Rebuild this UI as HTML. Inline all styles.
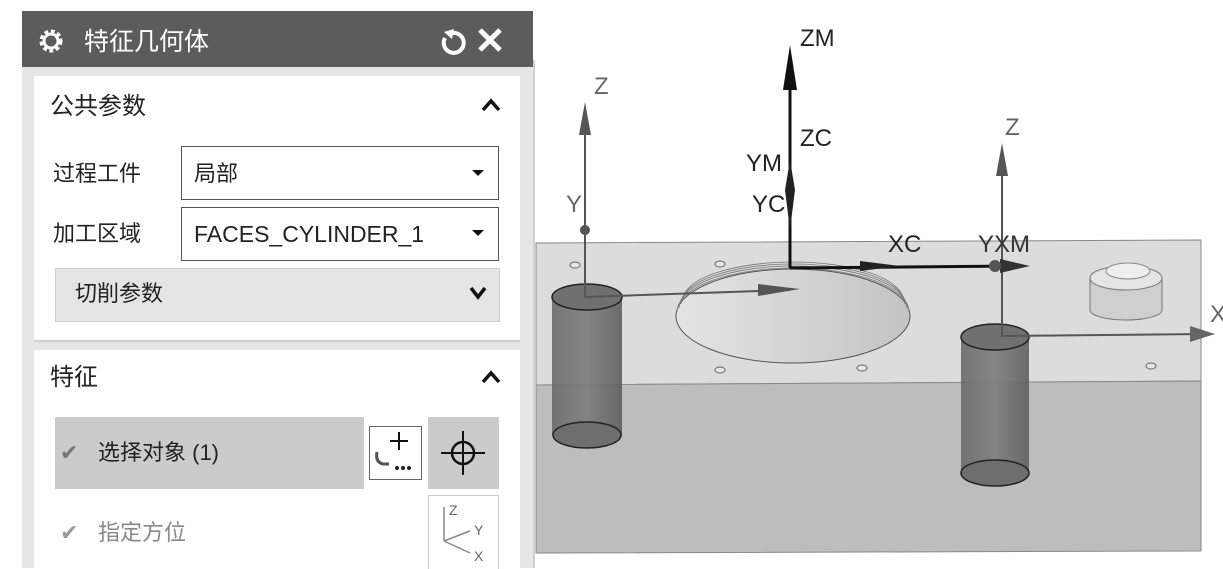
<!DOCTYPE html>
<html><head><meta charset="utf-8"><style>
html,body{margin:0;padding:0;background:#fff;width:1223px;height:568px;overflow:hidden;font-family:"Liberation Sans","Noto Sans CJK SC",sans-serif}
.a{position:absolute}
.t{position:absolute;height:30px;line-height:30px;white-space:nowrap;font-family:"Liberation Sans","Noto Sans CJK SC",sans-serif;color:#222;font-size:22px}
</style></head><body>
<div class="a" style="left:22px;top:11px;width:511px;height:557px;background:#e6e6e6"></div>
<div class="a" style="left:533px;top:60px;width:2px;height:508px;background:#d0d0d0"></div>
<div class="a" style="left:22px;top:11px;width:511px;height:56px;background:#5c5c5c"></div>
<svg class="a" style="left:36px;top:26px" width="30" height="30"><circle cx="15" cy="15" r="9" fill="none" stroke="#fff" stroke-width="5" stroke-dasharray="3.5 2.5"/><circle cx="15" cy="15" r="7" fill="none" stroke="#fff" stroke-width="3"/></svg>
<div class="t" style="left:84px;top:27px;color:#fff;font-size:25px">特征几何体</div>
<svg class="a" style="left:440px;top:22px" width="80" height="40"><path d="M12,11 A10,10 0 1 1 5,16" fill="none" stroke="#fff" stroke-width="4"/><polygon points="4,10 14,7 12,17" fill="#fff"/><path d="M40,8 L60,28 M60,8 L40,28" stroke="#fff" stroke-width="5"/></svg>
<div class="a" style="left:34px;top:76px;width:486px;height:264px;background:#fff;border-bottom:2px solid #cfcfcf"></div>
<div class="t" style="left:50px;top:92px;font-size:24px">公共参数</div>
<svg class="a" style="left:480px;top:96px" width="22" height="18"><path d="M3,14 L11,5 L19,14" fill="none" stroke="#111" stroke-width="3.5"/></svg>
<div class="t" style="left:53px;top:159px">过程工件</div>
<div class="a" style="left:181px;top:146px;width:316px;height:52px;border:1.5px solid #555;background:#fff"></div>
<div class="t" style="left:194px;top:159px">局部</div>
<svg class="a" style="left:470px;top:168px" width="16" height="10"><polygon points="2,2 14,2 8,8" fill="#111"/></svg>
<div class="t" style="left:53px;top:219px">加工区域</div>
<div class="a" style="left:181px;top:207px;width:316px;height:52px;border:1.5px solid #555;background:#fff"></div>
<div class="t" style="left:194px;top:219px;font-size:23px">FACES_CYLINDER_1</div>
<svg class="a" style="left:470px;top:228px" width="16" height="10"><polygon points="2,2 14,2 8,8" fill="#111"/></svg>
<div class="a" style="left:55px;top:268px;width:443px;height:52px;border:1.5px solid #cfcfcf;background:#e4e4e4"></div>
<div class="t" style="left:75px;top:279px">切削参数</div>
<svg class="a" style="left:467px;top:284px" width="22" height="18"><path d="M4,4 L11,13 L18,4" fill="none" stroke="#111" stroke-width="3.5"/></svg>
<div class="a" style="left:34px;top:350px;width:486px;height:218px;background:#fff"></div>
<div class="t" style="left:50px;top:363px;font-size:24px">特征</div>
<svg class="a" style="left:480px;top:368px" width="22" height="18"><path d="M3,14 L11,5 L19,14" fill="none" stroke="#111" stroke-width="3.5"/></svg>
<div class="a" style="left:55px;top:417px;width:309px;height:72px;background:#cbcbcb"></div>
<div class="t" style="left:60px;top:438px;font-size:22px;color:#777">✔</div>
<div class="t" style="left:98px;top:438px">选择对象 (1)</div>
<div class="a" style="left:369px;top:426px;width:51px;height:52px;border:1.5px solid #666;background:#fff"></div>
<svg class="a" style="left:369px;top:426px" width="53" height="54"><path d="M30,6 V24 M21,15 H39" stroke="#111" stroke-width="2"/><path d="M8,26 Q6,36 14,38 L20,38" fill="none" stroke="#555" stroke-width="3"/><circle cx="28" cy="42" r="2" fill="#222"/><circle cx="34" cy="42" r="2" fill="#222"/><circle cx="40" cy="42" r="2" fill="#222"/></svg>
<div class="a" style="left:428px;top:417px;width:71px;height:72px;background:#cbcbcb"></div>
<svg class="a" style="left:428px;top:417px" width="71" height="72"><circle cx="35" cy="36" r="11" fill="none" stroke="#111" stroke-width="2.5"/><line x1="13" y1="36" x2="57" y2="36" stroke="#111" stroke-width="2"/><line x1="35" y1="14" x2="35" y2="58" stroke="#111" stroke-width="2"/></svg>
<div class="t" style="left:60px;top:518px;font-size:22px;color:#999">✔</div>
<div class="t" style="left:98px;top:518px;color:#888">指定方位</div>
<div class="a" style="left:428px;top:495px;width:69px;height:73px;border:1.5px solid #ccc;border-bottom:none;background:#fff"></div>
<svg class="a" style="left:428px;top:495px" width="71" height="73"><g stroke="#888" stroke-width="1.5" fill="none"><line x1="16" y1="46" x2="16" y2="12"/><line x1="16" y1="46" x2="42" y2="36"/><line x1="16" y1="46" x2="42" y2="58"/></g><g font-family="Liberation Sans" font-size="14" fill="#666"><text x="21" y="20">Z</text><text x="46" y="40">Y</text><text x="46" y="66">X</text></g></svg>

<svg class="a" style="left:0;top:0" width="1223" height="568">
<defs><linearGradient id="cy" x1="0" x2="1"><stop offset="0" stop-color="#6a6a6a"/><stop offset="0.5" stop-color="#7c7c7c"/><stop offset="1" stop-color="#5e5e5e"/></linearGradient>
<linearGradient id="hl" x1="0" x2="1"><stop offset="0" stop-color="#e4e4e4"/><stop offset="1" stop-color="#c4c4c4"/></linearGradient></defs>
<polygon points="536,243 1201,240 1201,381 536,385" fill="#dcdcdc" stroke="#888" stroke-width="1"/>
<polygon points="536,385 1201,381 1201,551 536,553" fill="#bdbdbd" stroke="#888" stroke-width="1"/>
<ellipse cx="793" cy="316" rx="117" ry="47" fill="url(#hl)" stroke="#555"/>
<g fill="none" stroke="#777" stroke-width="0.8"><path d="M677,312 A116,44 0 0 1 909,312"/><path d="M679,308 A114,42 0 0 1 907,308"/><path d="M681,304 A112,40 0 0 1 905,304"/><path d="M683,300 A110,38 0 0 1 903,300"/></g>
<g fill="#e6e6e6" stroke="#666" stroke-width="1"><ellipse cx="575" cy="265" rx="5" ry="3"/><ellipse cx="720" cy="264" rx="5" ry="3"/><ellipse cx="720" cy="370" rx="5" ry="3"/><ellipse cx="862" cy="368" rx="5" ry="3"/><ellipse cx="1151" cy="366" rx="5" ry="3"/></g>
<path d="M1090,278 L1090,310 A36,10 0 0 0 1162,310 L1162,278 Z" fill="#cfcfcf" stroke="#777"/>
<ellipse cx="1126" cy="278" rx="36" ry="12" fill="#e4e4e4" stroke="#777"/>
<ellipse cx="1128" cy="271" rx="22" ry="8" fill="#eee" stroke="#888"/>
<rect x="552" y="297" width="70" height="138" fill="url(#cy)" opacity="0.9"/>
<ellipse cx="587" cy="297" rx="35" ry="13" fill="#707070" stroke="#222" stroke-width="1.5"/>
<ellipse cx="587" cy="435" rx="34" ry="13" fill="#6e6e6e" stroke="#222" stroke-width="1.5"/>
<rect x="961" y="337" width="68" height="136" fill="url(#cy)" opacity="0.9"/>
<ellipse cx="995" cy="337" rx="34" ry="13" fill="#707070" stroke="#222" stroke-width="1.5"/>
<ellipse cx="995" cy="473" rx="34" ry="13" fill="#6e6e6e" stroke="#222" stroke-width="1.5"/>
<g stroke="#555" stroke-width="2">
<line x1="585" y1="297" x2="585" y2="120"/><line x1="585" y1="297" x2="790" y2="290"/>
<line x1="1002" y1="337" x2="1002" y2="160"/><line x1="1002" y1="336" x2="1205" y2="334"/>
</g>
<polygon points="585,102 579,135 591,135" fill="#555"/>
<polygon points="1002,143 996,176 1008,176" fill="#555"/>
<polygon points="1215,334 1190,326 1190,342" fill="#666"/>
<polygon points="800,289 758,284 758,296" fill="#555"/>
<circle cx="585" cy="230" r="5" fill="#555"/>
<g stroke="#111" stroke-width="3"><line x1="790" y1="268" x2="790" y2="70"/><line x1="790" y1="268" x2="1020" y2="266"/></g>
<polygon points="790,45 783,90 797,90" fill="#111"/>
<polygon points="790,160 785,190 790,230 795,190" fill="#222"/>
<polygon points="1030,266 1000,259 1000,273" fill="#333"/>
<polygon points="900,266 860,261 860,271" fill="#222"/>
<circle cx="995" cy="266" r="6" fill="#555"/>
<g font-family="Liberation Sans" font-size="24" fill="#222">
<text x="800" y="46">ZM</text><text x="800" y="146">ZC</text>
<text x="746" y="171">YM</text><text x="752" y="212">YC</text>
<text x="888" y="252">XC</text><text x="978" y="252" fill="#333">YXM</text>
<text x="594" y="94" fill="#666">Z</text><text x="1005" y="135" fill="#666">Z</text>
<text x="566" y="212" fill="#666">Y</text><text x="1210" y="322" fill="#666">X</text>
</g>
</svg>
</body></html>
